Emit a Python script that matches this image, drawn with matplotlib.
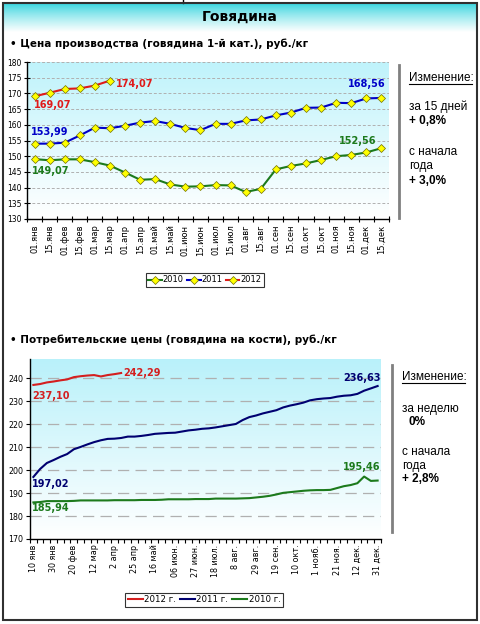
import matplotlib
matplotlib.use("Agg")
import matplotlib.pyplot as plt
import numpy as np
from matplotlib.lines import Line2D
from matplotlib.patches import Rectangle

# ---------------- data ----------------
title = "Говядина"
sub1 = "• Цена производства (говядина 1-й кат.), руб./кг"
sub2 = "• Потребительские цены (говядина на кости), руб./кг"

top_labels = ["01.янв", "15.янв", "01.фев", "15.фев", "01.мар", "15.мар", "01.апр", "15.апр",
              "01.май", "15.май", "01.июн", "15.июн", "01.июл", "15.июл", "01.авг", "15.авг",
              "01.сен", "15.сен", "01.окт", "15.окт", "01.ноя", "15.ноя", "01.дек", "15.дек"]
top_2010 = [149.07, 148.7, 149.0, 149.0, 148.1, 147.0, 144.8, 142.5, 142.7, 141.0, 140.3, 140.4,
            140.8, 140.7, 138.6, 139.6, 145.8, 146.9, 147.7, 148.8, 150.0, 150.4, 151.2, 152.56]
top_2011 = [153.99, 154.0, 154.3, 156.6, 159.1, 158.9, 159.7, 160.7, 161.2, 160.3, 159.0, 158.3,
            160.3, 160.3, 161.4, 161.7, 163.0, 163.9, 165.4, 165.5, 167.0, 166.9, 168.4, 168.56]
top_2012 = [169.07, 170.2, 171.4, 171.6, 172.5, 174.07]
top_yticks = [130, 135, 140, 145, 150, 155, 160, 165, 170, 175, 180]

bot_labels = ["10 янв", "30 янв", "20 фев", "12 мар", "2 апр", "25 апр", "16 май", "06 июн.",
              "27 июн.", "18 июл.", "8 авг.", "29 авг.", "19 сен.", "10 окт.", "1 нояб.",
              "21 ноя.", "12 дек.", "31 дек."]
bot_2011 = [197.02, 200.5, 203.1, 204.4, 205.8, 207.0, 209.1, 210.1, 211.2, 212.2,
            213.0, 213.6, 213.7, 214.0, 214.6, 214.6, 214.9, 215.3, 215.8, 216.0,
            216.2, 216.3, 216.8, 217.3, 217.6, 218.0, 218.2, 218.6, 219.1, 219.6,
            220.1, 221.8, 223.1, 223.8, 224.7, 225.4, 226.1, 227.3, 228.1, 228.7,
            229.4, 230.4, 230.9, 231.2, 231.4, 232.0, 232.4, 232.6, 233.2, 234.6,
            235.6, 236.63]
bot_2010 = [185.94, 186.1, 186.5, 186.5, 186.5, 186.5, 186.6, 186.8, 186.8, 186.8,
            186.8, 186.8, 186.9, 186.9, 186.9, 186.9, 187.0, 187.0, 187.0, 187.1,
            187.3, 187.3, 187.3, 187.3, 187.4, 187.4, 187.4, 187.6, 187.6, 187.6,
            187.6, 187.7, 187.8, 188.1, 188.4, 188.8, 189.4, 190.1, 190.4, 190.7,
            191.0, 191.2, 191.3, 191.3, 191.4, 192.2, 193.0, 193.5, 194.3, 197.2,
            195.3, 195.46]
bot_2012 = [237.10, 237.5, 238.2, 238.6, 239.1, 239.5, 240.5, 240.9, 241.2, 241.4,
            240.8, 241.4, 241.8, 242.29]
bot_yticks = [170, 180, 190, 200, 210, 220, 230, 240]

# ---------------- figure ----------------
W, H = 481, 624
fig = plt.figure(figsize=(W / 100, H / 100), dpi=100)
fig.patch.set_facecolor("white")
plt.rcParams["font.family"] = ["DejaVu Sans"]

def fx(x):
    return x / W

def fy(y):
    return 1 - y / H

def gradient(ax, top_color, bottom_color="#ffffff"):
    c1 = np.array(matplotlib.colors.to_rgb(top_color))
    c2 = np.array(matplotlib.colors.to_rgb(bottom_color))
    t = np.linspace(0, 1, 256)[:, None]
    img = (c1[None, :] * (1 - t) + c2[None, :] * t)[:, None, :]
    ax.imshow(img, extent=(0, 1, 0, 1), transform=ax.transAxes, aspect="auto",
              zorder=0, interpolation="bilinear")

# header gradient
hax = fig.add_axes([fx(3), fy(32), fx(474), 29 / H])
hax.set_axis_off()
c1 = np.array(matplotlib.colors.to_rgb("#2fd3dd"))
c2 = np.array([1.0, 1.0, 1.0])
t = np.linspace(0, 1, 256)[:, None] ** 0.8
img = (c1[None, :] * (1 - t) + c2[None, :] * t)[:, None, :]
hax.imshow(img, extent=(0, 1, 0, 1), aspect="auto")
hax.set_xlim(0, 1); hax.set_ylim(0, 1)

# outer frame
fig.patches.append(Rectangle((fx(3), fy(620)), fx(474), 617 / H, transform=fig.transFigure,
                             fill=False, edgecolor="#303030", linewidth=1.5, zorder=10))
fig.add_artist(Line2D([fx(183), fx(183)], [fy(0), fy(3)], color="black", lw=1))

fig.text(fx(240), fy(17), title, ha="center", va="center", fontsize=10, fontweight="bold")
fig.text(fx(10), fy(44), sub1, ha="left", va="center", fontsize=7.5, fontweight="bold")
fig.text(fx(10), fy(340), sub2, ha="left", va="center", fontsize=7.5, fontweight="bold")

GREEN = "#1c7a1c"
BLUE = "#0000c8"
RED = "#e01a1a"
NAVY = "#000070"
RED2 = "#d41f1f"
LW = 1.5

# ---------------- top chart ----------------
ax1 = fig.add_axes([fx(27), fy(219), fx(362), 157 / H])
gradient(ax1, "#bff3fb")
x_top = np.arange(len(top_labels))
mk = dict(marker="D", markersize=3.8, markerfacecolor="#ffff00", markeredgecolor="#707000",
          markeredgewidth=0.5)
ax1.plot(x_top, top_2010, color=GREEN, lw=LW, zorder=3, **mk)
ax1.plot(x_top, top_2011, color=BLUE, lw=LW, zorder=3, **mk)
ax1.plot(x_top[:len(top_2012)], top_2012, color=RED, lw=LW, zorder=3, **mk)
ax1.set_xlim(-0.5, len(top_labels) - 0.5)
ax1.set_ylim(130, 180)
ax1.set_yticks(top_yticks)
ax1.set_yticklabels([str(v) for v in top_yticks], fontsize=5.5)
ax1.set_xticks(x_top)
ax1.set_xticklabels(top_labels, rotation=90, fontsize=6)
ax1.set_xticks(np.arange(-0.5, len(top_labels)), minor=True)
ax1.tick_params(axis="x", which="major", length=0, pad=4)
ax1.tick_params(axis="x", which="minor", length=4, direction="inout", width=0.8)
ax1.tick_params(axis="y", length=4, direction="inout", width=0.8, pad=2)
for v in top_yticks[1:]:
    ax1.axhline(v, color="#b0b0b0", lw=0.7, ls=(0, (3, 2)), zorder=1)
for s in ["top", "right"]:
    ax1.spines[s].set_visible(False)
for s in ["left", "bottom"]:
    ax1.spines[s].set_color("black"); ax1.spines[s].set_linewidth(1)

def fmt(v):
    return f"{v:.2f}".replace(".", ",")

ann = dict(textcoords="offset pixels", fontsize=7, fontweight="bold", va="center")
ax1.annotate(fmt(top_2012[0]), (0, top_2012[0]), xytext=(-1, -9), ha="left", color=RED, **ann)
ax1.annotate(fmt(top_2012[-1]), (len(top_2012) - 1, top_2012[-1]), xytext=(6, -3), ha="left", color=RED, **ann)
ax1.annotate(fmt(top_2011[0]), (0, top_2011[0]), xytext=(-4, 12), ha="left", color=BLUE, **ann)
ax1.annotate(fmt(top_2010[0]), (0, top_2010[0]), xytext=(-3, -12), ha="left", color=GREEN, **ann)
ax1.annotate(fmt(top_2011[-1]), (len(top_2011) - 1, top_2011[-1]), xytext=(4, 14), ha="right", color=BLUE, **ann)
ax1.annotate(fmt(top_2010[-1]), (len(top_2010) - 1, top_2010[-1]), xytext=(-5, 7), ha="right", color=GREEN, **ann)

h1 = [Line2D([], [], color=GREEN, lw=LW, **mk),
      Line2D([], [], color=BLUE, lw=LW, **mk),
      Line2D([], [], color=RED, lw=LW, **mk)]
leg1 = fig.legend(h1, ["2010", "2011", "2012"], loc="center", bbox_to_anchor=(fx(205), fy(280)),
                  ncol=3, fontsize=6, frameon=True, fancybox=False, handlelength=1.6,
                  handletextpad=0.15, columnspacing=0.4, borderpad=0.3, borderaxespad=0)
leg1.get_frame().set_edgecolor("black"); leg1.get_frame().set_linewidth(0.8)

# right panel top
fig.add_artist(Line2D([fx(399), fx(399)], [fy(65), fy(218)], color="#808080", lw=2))
rp = dict(fontsize=8.5, family=["Liberation Sans", "DejaVu Sans"], va="center", ha="left")
fig.text(fx(409), fy(78), "Изменение:", **rp)
fig.add_artist(Line2D([fx(409), fx(472)], [fy(84), fy(84)], color="black", lw=0.8))
fig.text(fx(409), fy(107), "за 15 дней", **rp)
fig.text(fx(409), fy(121), "+ 0,8%", fontweight="bold", **rp)
fig.text(fx(409), fy(152), "с начала", **rp)
fig.text(fx(409), fy(166), "года", **rp)
fig.text(fx(409), fy(181), "+ 3,0%", fontweight="bold", **rp)

# ---------------- bottom chart ----------------
ax2 = fig.add_axes([fx(30), fy(539), fx(351), 180 / H])
gradient(ax2, "#b9f1fa")
x_bot = np.arange(len(bot_2011))
ax2.plot(x_bot, bot_2010, color=GREEN, lw=LW, zorder=3)
ax2.plot(x_bot, bot_2011, color=NAVY, lw=LW, zorder=3)
ax2.plot(x_bot[:len(bot_2012)], bot_2012, color=RED2, lw=LW, zorder=3)
ax2.set_xlim(-0.5, len(bot_2011) - 0.5)
ax2.set_ylim(170, 248.4)
ax2.set_yticks(bot_yticks)
ax2.set_yticklabels([str(v) for v in bot_yticks], fontsize=5.7)
label_pos = np.arange(0, len(bot_2011), 3)
ax2.set_xticks(label_pos)
ax2.set_xticklabels(bot_labels, rotation=90, fontsize=5.8)
ax2.set_xticks(np.arange(-0.5, len(bot_2011)), minor=True)
ax2.tick_params(axis="x", which="major", length=0, pad=4)
ax2.tick_params(axis="x", which="minor", length=3, direction="out", width=0.8)
ax2.tick_params(axis="y", length=3, direction="out", width=0.8, pad=2)
for v in bot_yticks[1:]:
    ax2.axhline(v, color="#b0b0b0", lw=0.9, ls=(0, (9, 5)), zorder=1)
for s in ["top", "right"]:
    ax2.spines[s].set_visible(False)
for s in ["left", "bottom"]:
    ax2.spines[s].set_color("black"); ax2.spines[s].set_linewidth(1)

ax2.annotate(fmt(bot_2012[0]), (0, bot_2012[0]), xytext=(-1, -11), ha="left", color=RED2, **ann)
ax2.annotate(fmt(bot_2012[-1]), (len(bot_2012) - 1, bot_2012[-1]), xytext=(2, 0), ha="left", color=RED2, **ann)
ax2.annotate(fmt(bot_2011[0]), (0, bot_2011[0]), xytext=(-1, -7), ha="left", color=NAVY, **ann)
ax2.annotate(fmt(bot_2010[0]), (0, bot_2010[0]), xytext=(-1, -6), ha="left", color=GREEN, **ann)
ax2.annotate(fmt(bot_2011[-1]), (len(bot_2011) - 1, bot_2011[-1]), xytext=(3, 8), ha="right", color=NAVY, **ann)
ax2.annotate(fmt(bot_2010[-1]), (len(bot_2010) - 1, bot_2010[-1]), xytext=(3, 14), ha="right", color=GREEN, **ann)

h2 = [Line2D([], [], color=RED2, lw=LW),
      Line2D([], [], color=NAVY, lw=LW),
      Line2D([], [], color=GREEN, lw=LW)]
leg2 = fig.legend(h2, ["2012 г.", "2011 г.", "2010 г."], loc="center", bbox_to_anchor=(fx(204), fy(600)),
                  ncol=3, fontsize=6.2, frameon=True, fancybox=False, handlelength=1.8,
                  handletextpad=0.15, columnspacing=0.4, borderpad=0.3, borderaxespad=0)
leg2.get_frame().set_edgecolor("black"); leg2.get_frame().set_linewidth(0.8)

# right panel bottom
fig.add_artist(Line2D([fx(392), fx(392)], [fy(365), fy(532)], color="#808080", lw=2))
fig.text(fx(402), fy(377), "Изменение:", **rp)
fig.add_artist(Line2D([fx(402), fx(465)], [fy(383), fy(383)], color="black", lw=0.8))
fig.text(fx(402), fy(409), "за неделю", **rp)
fig.text(fx(409), fy(422), "0%", fontweight="bold", **rp)
fig.text(fx(402), fy(452), "с начала", **rp)
fig.text(fx(402), fy(466), "года", **rp)
fig.text(fx(402), fy(479), "+ 2,8%", fontweight="bold", **rp)

fig.savefig("out.png", dpi=100)
